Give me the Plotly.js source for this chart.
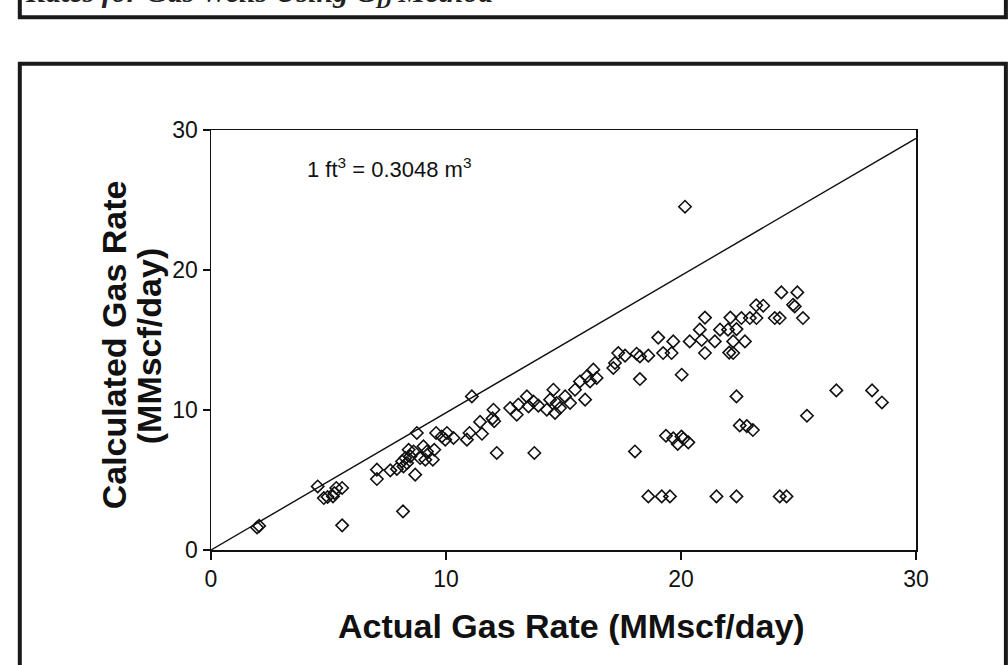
<!DOCTYPE html>
<html>
<head>
<meta charset="utf-8">
<script src="https://cdn.plot.ly/plotly-3.0.1.min.js"></script>
<style>
  html, body { margin: 0; padding: 0; background: #ffffff; }
  #chart { width: 1008px; height: 665px; }
</style>
</head>
<body>
<div id="chart"></div>
<script>
// Actual vs. calculated gas rate (MMscf/day), one point per well test
const actualRate = [
  1.96, 2.05, 4.54, 4.80, 4.96, 5.19, 5.25, 5.33, 5.58, 5.58,
  7.06, 7.06, 7.63, 7.91, 8.17, 8.13, 8.19, 8.27, 8.34, 8.41,
  8.48, 8.62, 8.69, 8.76, 8.90, 9.04, 9.12, 9.19, 9.44, 9.50,
  9.58, 9.82, 9.97, 10.04, 10.32, 10.89, 11.00, 11.10, 11.45, 11.53,
  12.02, 11.98, 12.05, 12.16, 12.73, 13.01, 13.08, 13.44, 13.51, 13.72,
  13.76, 13.93, 14.29, 14.43, 14.57, 14.64, 14.71, 14.85, 15.07, 15.28,
  15.49, 15.70, 15.92, 15.99, 16.13, 16.27, 16.41, 17.12, 17.19, 17.33,
  17.62, 18.04, 18.11, 18.25, 18.25, 18.61, 18.61, 19.03, 19.18, 19.24,
  19.36, 19.53, 19.60, 19.67, 19.67, 19.86, 20.02, 20.10, 20.31, 20.03,
  20.17, 20.37, 20.80, 20.88, 21.02, 21.02, 21.44, 21.51, 21.66, 22.00,
  22.10, 22.05, 22.22, 22.22, 22.36, 22.36, 22.36, 22.50, 22.57, 22.72,
  22.80, 22.93, 23.06, 23.21, 23.20, 23.50, 23.99, 24.20, 24.27, 24.20,
  24.49, 24.77, 24.84, 24.95, 25.19, 25.36, 26.61, 28.13, 28.55
];
const calculatedRate = [
  1.61, 1.72, 4.54, 3.71, 3.79, 3.83, 4.07, 4.43, 4.43, 1.76,
  5.74, 5.07, 5.69, 5.79, 2.76, 6.33, 5.97, 6.57, 6.21, 7.16,
  6.69, 7.04, 5.38, 8.36, 6.57, 7.40, 6.45, 7.04, 6.45, 7.16,
  8.36, 8.11, 7.88, 8.36, 8.00, 7.88, 8.36, 10.97, 9.15, 8.30,
  10.02, 9.40, 9.20, 6.93, 10.14, 9.66, 10.38, 10.97, 10.26, 10.61,
  6.93, 10.31, 10.02, 10.74, 11.45, 9.79, 10.50, 10.14, 10.97, 10.50,
  11.45, 12.04, 10.74, 12.40, 12.04, 12.88, 12.29, 13.00, 13.36, 14.07,
  13.88, 7.04, 14.02, 13.83, 12.21, 13.88, 3.83, 15.17, 3.83, 14.07,
  8.16, 3.83, 14.07, 14.90, 7.98, 7.58, 8.10, 7.95, 7.69, 12.52,
  24.52, 14.90, 15.74, 15.00, 16.60, 14.07, 14.90, 3.83, 15.74, 15.74,
  16.60, 14.10, 14.07, 14.90, 15.78, 10.97, 3.83, 8.90, 16.57, 14.90,
  8.85, 16.57, 8.57, 16.57, 17.48, 17.45, 16.57, 16.57, 18.40, 3.83,
  3.83, 17.52, 17.40, 18.40, 16.57, 9.59, 11.40, 11.40, 10.54
];

// Reference line drawn across the full axis range
const refLineX = [0, 30];
const refLineY = [0, 29.4];

const tickValues = [0, 10, 20, 30];
const tickLabels = ['0', '10', '20', '30'];

const xTitle = 'Actual Gas Rate (MMscf/day)';
const yTitleLine1 = 'Calculated Gas Rate';
const yTitleLine2 = '(MMscf/day)';
const unitNote = '1 ft<sup>3</sup> = 0.3048 m<sup>3</sup>';
const captionText = 'Rates for Gas Wells Using C<sub>D</sub> Method';

const sans = 'Arial, "Liberation Sans", Helvetica, sans-serif';
const ink = '#111111';

const traces = [
  {
    x: refLineX, y: refLineY,
    type: 'scatter', mode: 'lines',
    line: { color: ink, width: 1.4 },
    hoverinfo: 'skip', showlegend: false
  },
  {
    x: actualRate, y: calculatedRate,
    type: 'scatter', mode: 'markers',
    marker: {
      symbol: 'diamond-open', size: 9.5, color: ink,
      line: { color: ink, width: 1.6 }
    },
    showlegend: false
  }
];

const axisCommon = {
  range: [0, 30],
  tickvals: tickValues,
  ticktext: tickLabels,
  ticks: 'outside',
  ticklen: 7,
  tickwidth: 1.3,
  tickcolor: ink,
  showline: true,
  linecolor: ink,
  linewidth: 1.5,
  mirror: true,
  showgrid: false,
  zeroline: false,
  fixedrange: true,
  tickfont: { family: sans, size: 23, color: ink }
};

const titleFont = { family: sans, size: 34, weight: 'bold', color: ink };

const layout = {
  width: 1008,
  height: 665,
  margin: { l: 210.5, r: 91.5, t: 130.3, b: 114.7, pad: 0 },
  paper_bgcolor: '#ffffff',
  plot_bgcolor: '#ffffff',
  xaxis: Object.assign({}, axisCommon, { ticklen: 8 }),
  yaxis: Object.assign({}, axisCommon),
  annotations: [
    // axis titles
    {
      text: xTitle, xref: 'paper', yref: 'paper',
      x: 0.512, y: -0.182, xanchor: 'center', yanchor: 'middle',
      showarrow: false, font: titleFont
    },
    {
      text: yTitleLine1, xref: 'paper', yref: 'paper',
      x: -0.138, y: 0.489, xanchor: 'center', yanchor: 'middle',
      textangle: -90, showarrow: false, font: titleFont
    },
    {
      text: yTitleLine2, xref: 'paper', yref: 'paper',
      x: -0.0886, y: 0.484, xanchor: 'center', yanchor: 'middle',
      textangle: -90, showarrow: false, font: titleFont
    },
    // unit conversion note inside the plot
    {
      text: unitNote,
      xref: 'x', yref: 'y',
      x: 4.02, y: 27.3,
      xanchor: 'left', yanchor: 'middle',
      showarrow: false,
      font: { family: sans, size: 22, color: ink }
    },
    // caption of the panel above
    {
      text: captionText,
      xref: 'paper', yref: 'paper',
      x: -0.267, y: 1.2735,
      xanchor: 'left', yanchor: 'bottom',
      showarrow: false,
      font: { family: '"Liberation Serif", "Times New Roman", serif', size: 30,
              weight: 'bold', style: 'italic', color: '#222222' }
    }
  ],
  shapes: [
    // frame around the figure panel
    {
      type: 'rect', xref: 'paper', yref: 'paper',
      x0: -0.2712, x1: 1.1275, y0: -0.35, y1: 1.158,
      line: { color: '#1a1a1a', width: 4 }, fillcolor: 'rgba(0,0,0,0)'
    },
    // lower edge of the caption panel above
    {
      type: 'rect', xref: 'paper', yref: 'paper',
      x0: -0.2712, x1: 1.1275, y0: 1.2685, y1: 1.40,
      line: { color: '#1a1a1a', width: 4 }, fillcolor: 'rgba(0,0,0,0)'
    }
  ]
};

Plotly.newPlot('chart', traces, layout, { staticPlot: true, displayModeBar: false });
</script>
</body>
</html>
